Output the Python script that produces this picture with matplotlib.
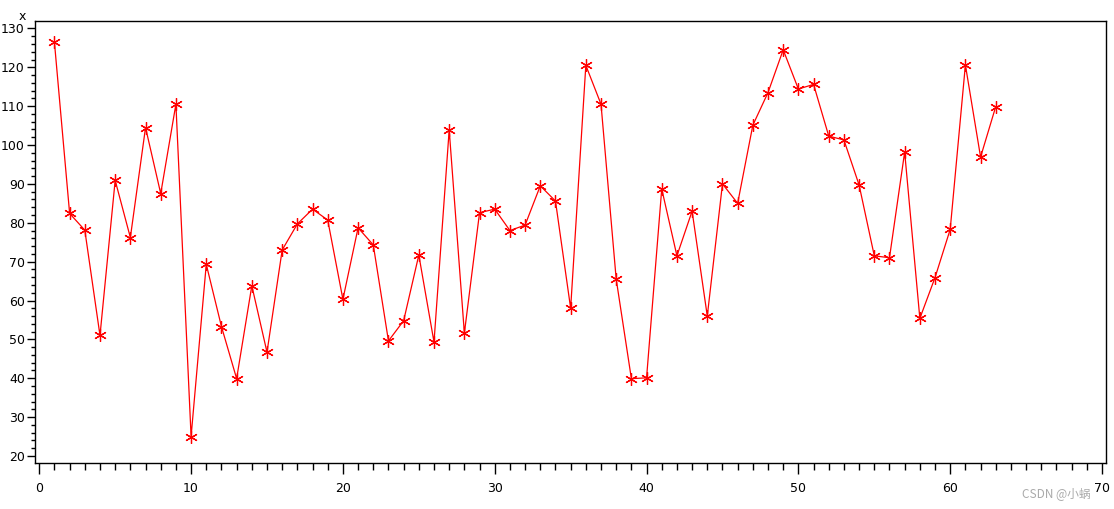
import matplotlib
matplotlib.use("Agg")
import matplotlib.pyplot as plt
from matplotlib.ticker import MultipleLocator

obs = list(range(1, 64))
x_values = [126.4, 82.4, 78.1, 51.0, 90.9, 76.2, 104.5, 87.5, 110.5, 25.0,
            69.3, 53.3, 39.9, 63.8, 46.7, 73.0, 79.7, 83.5, 80.7, 60.3,
            78.7, 74.3, 49.6, 54.8, 71.7, 49.3, 103.9, 51.6, 82.6, 83.5,
            78.0, 79.4, 89.5, 85.6, 58.0, 120.5, 110.5, 65.5, 39.9, 40.1,
            88.7, 71.5, 83.0, 56.0, 90.0, 85.0, 105.1, 113.5, 124.5, 114.4,
            115.6, 102.3, 101.3, 89.7, 71.5, 71.0, 98.2, 55.4, 65.9, 78.3,
            120.6, 96.9, 109.9]
xticks = [0, 10, 20, 30, 40, 50, 60, 70]
yticks = [20, 30, 40, 50, 60, 70, 80, 90, 100, 110, 120, 130]

plt.rcParams['font.family'] = ['DejaVu Sans']

fig = plt.figure(figsize=(11.14, 5.09), dpi=100)
ax = fig.add_axes([0.0317, 0.0904, 0.9611, 0.8683])

ax.plot(obs, x_values, color="#ff0000", linewidth=0.9,
        marker=(6, 2, 0), markersize=9, markeredgewidth=0.9,
        markeredgecolor="#ff0000")

ax.set_xlim(-0.26, 70.26)
ax.set_ylim(18.2, 131.9)
ax.set_xticks(xticks)
ax.set_yticks(yticks)
ax.xaxis.set_minor_locator(MultipleLocator(1))
ax.yaxis.set_minor_locator(MultipleLocator(2))

ax.tick_params(axis="x", which="major", length=8, width=1, pad=6, labelsize=9)
ax.tick_params(axis="x", which="minor", length=5, width=1)
ax.tick_params(axis="y", which="major", length=6, width=1, pad=1.5, labelsize=9)
ax.tick_params(axis="y", which="minor", length=3, width=1)

for sp in ax.spines.values():
    sp.set_linewidth(1.0)
    sp.set_color("black")

fig.text(22 / 1114, 1 - 17 / 509, "x", ha="center", va="center", fontsize=9)
fig.text(1056 / 1114, 1 - 494 / 509, "CSDN @小蜗", ha="center", va="center",
         fontsize=8.5, color="#aaaaaa", family=["Noto Sans CJK SC", "DejaVu Sans"])

fig.savefig("out.png", dpi=100)
